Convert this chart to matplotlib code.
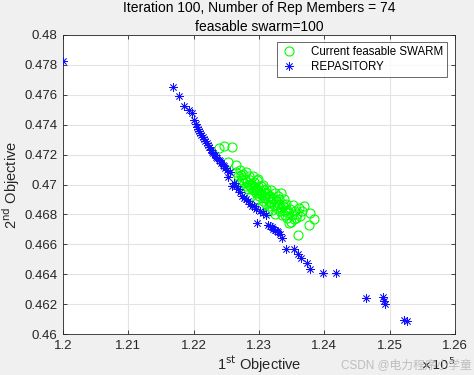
import matplotlib
matplotlib.use("Agg")
import matplotlib.pyplot as plt

# Current feasible swarm (green circles)
swarm_x = [122387, 122463, 122586, 122525, 122647, 122708, 122677, 122754, 122785, 122739,
           122815, 122846, 122861, 122892, 122800, 122922, 122938, 122968, 122984, 123014,
           122907, 122953, 123030, 123045, 123076, 122999, 123091, 123121, 123060, 123137,
           123167, 123106, 123182, 123213, 123152, 123229, 123259, 123198, 123274, 123305,
           123244, 123320, 123366, 123351, 123397, 123443, 123428, 123473, 123504, 123550,
           123596, 123779, 123841, 123764, 123489, 123565, 123290, 123382, 123336, 123412,
           123519, 123611, 123580, 123626, 123458, 122769, 122830, 122876, 122968, 123045,
           123137, 122693, 122723, 122800, 122907, 122984, 123060, 123106, 123182, 123244,
           123305, 123366, 122968, 123030, 123091, 123152, 123198, 122846, 122876, 122938,
           122999, 123274, 123336, 123397, 123534, 123657, 123687, 122647, 123167, 123428]
swarm_y = [0.47242, 0.47255, 0.47248, 0.47148, 0.47081, 0.47094, 0.47054, 0.47067, 0.47040, 0.47027,
           0.47014, 0.47054, 0.47027, 0.47000, 0.46987, 0.47014, 0.46980, 0.47027, 0.46993, 0.46960,
           0.46960, 0.46940, 0.46987, 0.46933, 0.46960, 0.46920, 0.46913, 0.46946, 0.46893, 0.46900,
           0.46926, 0.46873, 0.46886, 0.46906, 0.46853, 0.46866, 0.46893, 0.46832, 0.46846, 0.46873,
           0.46806, 0.46826, 0.46853, 0.46799, 0.46826, 0.46812, 0.46779, 0.46839, 0.46799, 0.46826,
           0.46665, 0.46812, 0.46772, 0.46732, 0.46752, 0.46779, 0.46920, 0.46900, 0.46940, 0.46873,
           0.46866, 0.46846, 0.46806, 0.46792, 0.46745, 0.47007, 0.46973, 0.46926, 0.46900, 0.46859,
           0.46826, 0.47007, 0.47061, 0.47081, 0.47054, 0.47040, 0.47000, 0.46973, 0.46960, 0.46940,
           0.46906, 0.46873, 0.46960, 0.46940, 0.46940, 0.46926, 0.46913, 0.47000, 0.46980, 0.46960,
           0.46946, 0.46866, 0.46846, 0.46799, 0.46772, 0.46826, 0.46859, 0.47128, 0.46880, 0.46832]

# Repository members (blue asterisks)
rep_x = [120000, 121683, 121775, 121851, 121928, 121974, 122004, 122035, 122050, 122066,
         122081, 122096, 122111, 122142, 122157, 122173, 122203, 122219, 122234, 122264,
         122280, 122295, 122326, 122341, 122356, 122387, 122402, 122417, 122448, 122463,
         122479, 122509, 122525, 122555, 122586, 122616, 122647, 122677, 122708, 122739,
         122769, 122800, 122830, 122861, 122892, 122922, 122953, 122968, 123014, 123060,
         123106, 123137, 123167, 123198, 123213, 123244, 123274, 123290, 123320, 123351,
         123412, 123534, 123596, 123641, 123733, 123779, 123978, 124177, 124636, 124896,
         124911, 124927, 125217, 125263]
rep_y = [0.47826, 0.47651, 0.47591, 0.47524, 0.47497, 0.47477, 0.47430, 0.47403, 0.47383, 0.47369,
         0.47356, 0.47342, 0.47329, 0.47316, 0.47302, 0.47289, 0.47275, 0.47262, 0.47248, 0.47228,
         0.47215, 0.47208, 0.47195, 0.47181, 0.47175, 0.47161, 0.47154, 0.47141, 0.47128, 0.47121,
         0.47108, 0.47094, 0.47047, 0.47081, 0.46993, 0.47007, 0.46987, 0.46973, 0.46947, 0.46926,
         0.46913, 0.46906, 0.46893, 0.46873, 0.46859, 0.46853, 0.46839, 0.46745, 0.46826, 0.46812,
         0.46799, 0.46732, 0.46725, 0.46718, 0.46705, 0.46698, 0.46692, 0.46685, 0.46671, 0.46645,
         0.46571, 0.46571, 0.46537, 0.46510, 0.46477, 0.46437, 0.46410, 0.46410, 0.46242, 0.46249,
         0.46222, 0.46202, 0.46094, 0.46088]

xticks = [120000, 121000, 122000, 123000, 124000, 125000, 126000]
xtick_labels = ['1.2', '1.21', '1.22', '1.23', '1.24', '1.25', '1.26']
yticks = [0.46, 0.462, 0.464, 0.466, 0.468, 0.47, 0.472, 0.474, 0.476, 0.478, 0.48]
ytick_labels = ['0.46', '0.462', '0.464', '0.466', '0.468', '0.47', '0.472', '0.474', '0.476', '0.478', '0.48']

plt.rcParams['font.family'] = ['Liberation Sans', 'Noto Sans CJK SC', 'DejaVu Sans']

fig = plt.figure(figsize=(4.74, 3.75), dpi=100, facecolor='#f0f0f0')
ax = fig.add_axes([0.133, 0.109, 0.827, 0.798])
ax.set_facecolor('white')

ax.plot(swarm_x, swarm_y, linestyle='none', marker='o', markersize=6.5,
        markerfacecolor='none', markeredgecolor='#00ff00', markeredgewidth=0.8,
        label='Current feasable SWARM', zorder=3)
ax.plot(rep_x, rep_y, linestyle='none', marker=(8, 2, 0), markersize=6,
        color='#1010ff', markeredgewidth=0.55, label='REPASITORY', zorder=4)

ax.set_xlim(120000, 126000)
ax.set_ylim(0.46, 0.48)
ax.set_xticks(xticks)
ax.set_xticklabels(xtick_labels)
ax.set_yticks(yticks)
ax.set_yticklabels(ytick_labels)
ax.grid(True, color='#e3e3e3', linewidth=0.8)
ax.set_axisbelow(True)
ax.tick_params(direction='in', length=3, width=0.6, colors='#262626', labelsize=9.5,
               top=True, right=True, pad=4)
for s in ax.spines.values():
    s.set_color('#262626')
    s.set_linewidth(0.6)

ax.set_xlabel('1$^{\\mathrm{st}}$ Objective', fontsize=10.5, color='#262626', labelpad=1)
ax.set_ylabel('2$^{\\mathrm{nd}}$ Objective', fontsize=10.5, color='#262626')
ax.yaxis.set_label_coords(-0.105, 0.5)
ax.set_title('Iteration 100, Number of Rep Members = 74\nfeasable swarm=100',
             fontsize=10, color='#000000', linespacing=1.45, pad=3)

ax.text(1.0, -0.075, '$\\times10^5$', transform=ax.transAxes, ha='right', va='top',
        fontsize=9.5, color='#262626')

leg = ax.legend(loc='upper right', fontsize=8.3, frameon=True, fancybox=False,
                edgecolor='#262626', borderpad=0.35, handlelength=1.4, handletextpad=1.2,
                bbox_to_anchor=(0.985, 0.985), labelspacing=0.25, borderaxespad=0.2)
leg.get_frame().set_linewidth(0.6)

fig.text(0.995, 0.01, 'CSDN @电力程序小学童', ha='right', va='bottom',
         fontsize=8.5, color='#b8b8b8', alpha=0.9)

fig.savefig('out.png', dpi=100, facecolor=fig.get_facecolor())
